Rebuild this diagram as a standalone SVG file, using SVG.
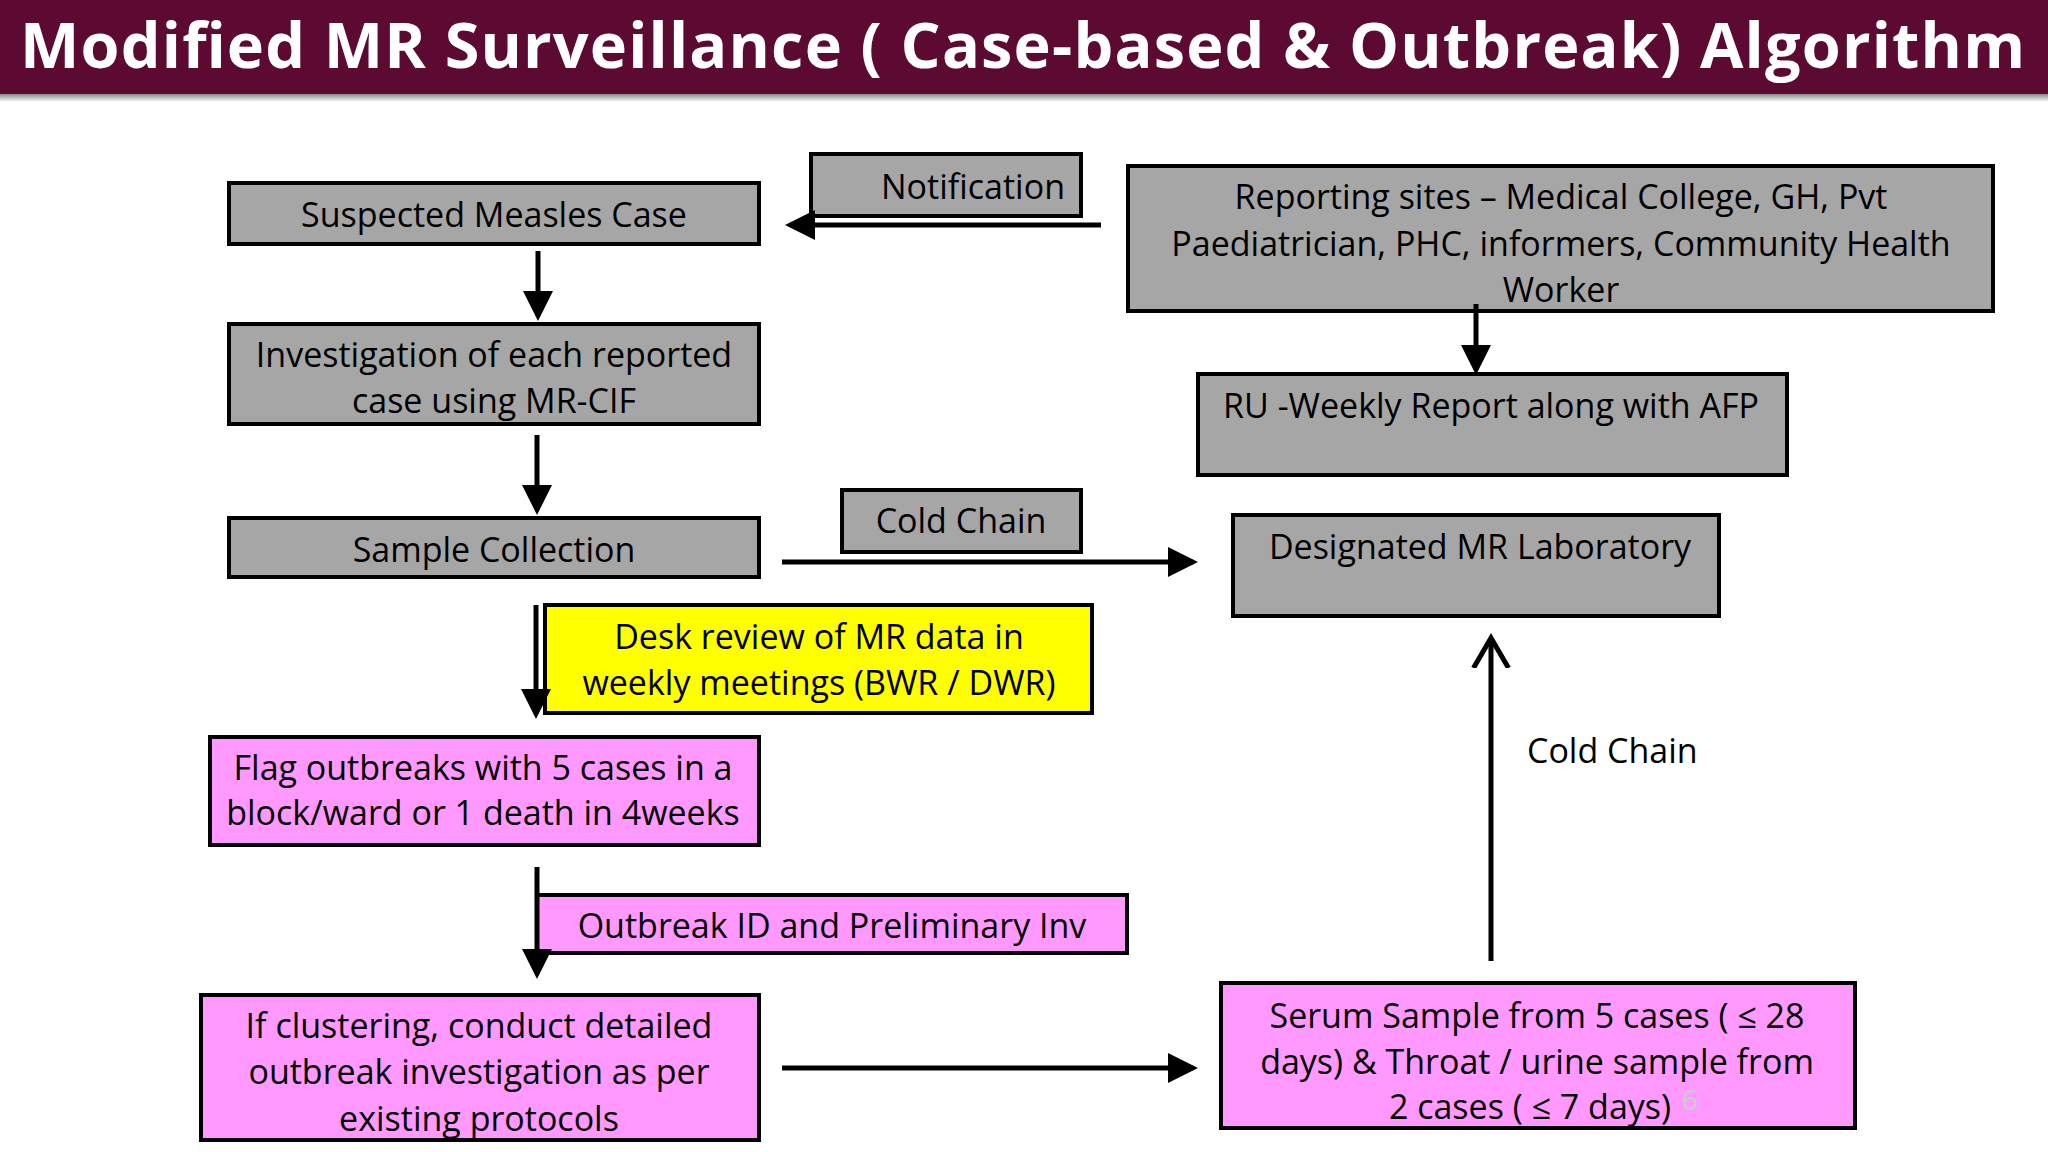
<svg xmlns="http://www.w3.org/2000/svg" width="2048" height="1152" viewBox="0 0 2048 1152" xml:space="preserve">
<defs>
<marker id="ah" markerWidth="6" markerHeight="6" refX="5" refY="3" orient="auto" markerUnits="strokeWidth"><path d="M0,0 L6,3 L0,6 Z" fill="#000"/></marker>
<marker id="av" markerWidth="8" markerHeight="8" refX="6" refY="4" orient="auto" markerUnits="strokeWidth"><path d="M0,0.5 L6,4 L0,7.5" fill="none" stroke="#000" stroke-width="1"/></marker>
<linearGradient id="sh" x1="0" y1="0" x2="0" y2="1"><stop offset="0" stop-color="#888"/><stop offset="1" stop-color="#fff"/></linearGradient>
</defs>
<style>
.g{fill:#a6a6a6;stroke:#000;stroke-width:4}
.p{fill:#ff99ff;stroke:#000;stroke-width:4}
.y{fill:#ffff00;stroke:#000;stroke-width:4}
text{font-family:"Open Sans","Liberation Sans",sans-serif;font-size:34px;fill:#000}
.c{text-anchor:middle}
.l{stroke:#000;stroke-width:5;fill:none}
</style>
<rect width="2048" height="1152" fill="#fff"/>
<rect x="0" y="94" width="2048" height="8" fill="url(#sh)"/>
<rect x="0" y="0" width="2048" height="94" fill="#5c0a31"/>
<text x="20" y="68" textLength="2005" style="font-size:63px;font-weight:bold;fill:#fff">Modified  MR Surveillance ( Case-based &amp; Outbreak) Algorithm</text>
<g id="n1"><rect class="g" x="229" y="183" width="530" height="61"/><text class="c" x="494" y="227">Suspected Measles Case</text></g>
<g id="n2"><rect class="g" x="811" y="154" width="270" height="62"/><text class="c" x="973" y="199">Notification</text></g>
<g id="n3"><rect class="g" x="1128" y="166" width="865" height="145"/><text class="c" x="1561" y="209">Reporting sites – Medical College, GH, Pvt</text><text class="c" x="1561" y="256">Paediatrician, PHC, informers, Community Health</text><text class="c" x="1561" y="302">Worker</text></g>
<g id="n4"><rect class="g" x="229" y="324" width="530" height="100"/><text class="c" x="494" y="367">Investigation of each reported</text><text class="c" x="494" y="413">case using MR-CIF</text></g>
<g id="n5"><rect class="g" x="1198" y="374" width="589" height="101"/><text class="c" x="1491" y="418">RU -Weekly Report along with AFP</text></g>
<g id="n6"><rect class="g" x="229" y="518" width="530" height="59"/><text class="c" x="494" y="562">Sample Collection</text></g>
<g id="n7"><rect class="g" x="842" y="490" width="239" height="62"/><text class="c" x="961" y="533">Cold Chain</text></g>
<g id="n8"><rect class="g" x="1233" y="515" width="486" height="101"/><text class="c" x="1480" y="559">Designated MR Laboratory</text></g>
<g id="n9"><rect class="y" x="545" y="605" width="547" height="108"/><text class="c" x="819" y="649">Desk review of MR data in</text><text class="c" x="819" y="695">weekly meetings (BWR / DWR)</text></g>
<g id="n10"><rect class="p" x="210" y="737" width="549" height="108"/><text class="c" x="483" y="780">Flag outbreaks with 5 cases in a</text><text class="c" x="483" y="825">block/ward or 1 death in 4weeks</text></g>
<g id="n11"><rect class="p" x="537" y="895" width="590" height="58"/><text class="c" x="832" y="938">Outbreak ID and Preliminary Inv</text></g>
<g id="n12"><rect class="p" x="201" y="995" width="558" height="145"/><text class="c" x="479" y="1038">If clustering, conduct detailed</text><text class="c" x="479" y="1084">outbreak  investigation as per</text><text class="c" x="479" y="1131">existing protocols</text></g>
<g id="n13"><rect class="p" x="1221" y="983" width="634" height="145"/><text class="c" x="1537" y="1028">Serum Sample from 5 cases ( ≤ 28</text><text class="c" x="1537" y="1074">days)  &amp;  Throat / urine sample from</text><text class="c" x="1530" y="1119">2 cases ( ≤ 7 days)</text></g>
<g id="connectors">
<line class="l" x1="1101" y1="225" x2="790" y2="225" marker-end="url(#ah)"/>
<line class="l" x1="538" y1="251" x2="538" y2="316" marker-end="url(#ah)"/>
<line class="l" x1="537" y1="435" x2="537" y2="510" marker-end="url(#ah)"/>
<line class="l" x1="782" y1="562" x2="1193" y2="562" marker-end="url(#ah)"/>
<line class="l" x1="1476" y1="304" x2="1476" y2="370" marker-end="url(#ah)"/>
<line class="l" x1="536" y1="605" x2="536" y2="714" marker-end="url(#ah)"/>
<line class="l" x1="537" y1="867" x2="537" y2="974" marker-end="url(#ah)"/>
<line class="l" x1="782" y1="1068" x2="1193" y2="1068" marker-end="url(#ah)"/>
<line class="l" x1="1491" y1="961" x2="1491" y2="638" marker-end="url(#av)"/>
<text x="1527" y="763">Cold Chain</text>
</g>
<text x="1682" y="1110" style="font-size:28px;fill:#ccc">6</text>
</svg>
